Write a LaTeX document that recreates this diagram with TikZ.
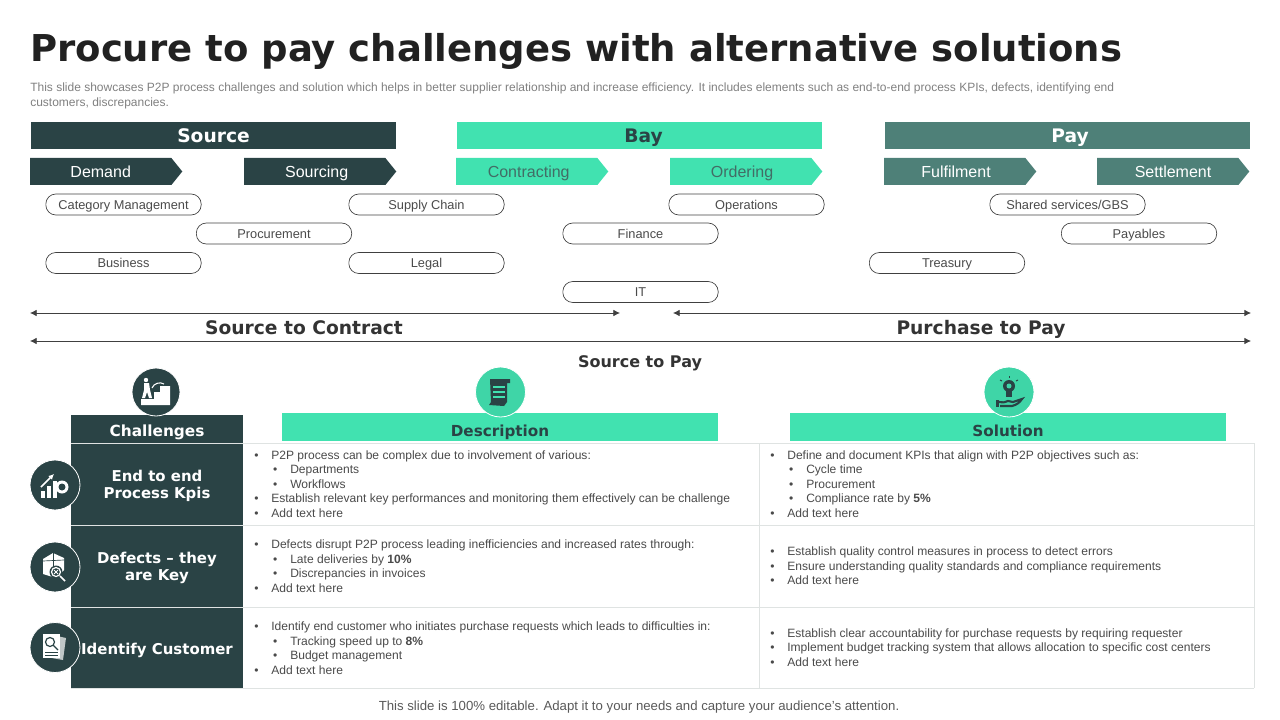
\documentclass[tikz,border=0pt]{standalone}
\usepackage{fontspec}
\usepackage{tikz}
\usetikzlibrary{shapes.symbols,arrows.meta}
\setmainfont{Liberation Sans}
\newfontfamily\headfont{DejaVu Sans}
\definecolor{darkteal}{HTML}{2A4345}
\definecolor{mint}{HTML}{41E2B0}
\definecolor{sage}{HTML}{4E8078}
\definecolor{bodygray}{HTML}{4A4A4A}
\definecolor{rulegray}{HTML}{DFE3E2}
\tikzstyle{bar}=[rectangle,minimum width=273.75pt,minimum height=20.25pt,inner sep=0pt,text height=14pt,text depth=2.8pt,font=\headfont\bfseries\fontsize{14}{16}\selectfont]
\tikzstyle{tag}=[signal,signal to=east,signal from=nowhere,signal pointer angle=102,minimum height=20.25pt,inner sep=0pt,text width=106pt,text height=11.5pt,text depth=2.2pt,align=center,font=\fontsize{12}{14}\selectfont]
\tikzstyle{pill}=[rectangle,draw=black!75,rounded corners=7.5pt,line width=.5pt,minimum width=116.5pt,minimum height=15.75pt,inner sep=0pt,text height=9pt,text depth=2.2pt,text=bodygray,font=\fontsize{9.6}{11}\selectfont]
\tikzstyle{span}=[{Latex[length=5pt,width=5pt]}-{Latex[length=5pt,width=5pt]},draw=black!75,line width=.6pt]
\tikzstyle{spanlabel}=[text=black!80,text height=13pt,text depth=2.6pt,font=\headfont\bfseries\fontsize{14}{16}\selectfont]
\tikzstyle{head}=[rectangle,fill=mint,minimum width=327pt,minimum height=21pt,inner sep=0pt,text=darkteal,text height=15pt,text depth=1.5pt,font=\headfont\bfseries\fontsize{11.4}{14}\selectfont]
\tikzstyle{side}=[rectangle,fill=darkteal,minimum width=129pt,inner sep=0pt,text=white,align=center,font=\headfont\bfseries\fontsize{11.2}{13}\selectfont]
\tikzstyle{disc}=[circle,fill=darkteal,draw=white,line width=.6pt,minimum size=37.5pt,inner sep=0pt]
\tikzstyle{discM}=[disc,fill=mint!92!darkteal]
\tikzstyle{cell}=[anchor=west,inner sep=0pt,text=bodygray,align=left,font=\fontsize{9.04}{10.9}\selectfont]
\newcommand{\bul}{\makebox[12.8pt][l]{\textbullet}}
\newcommand{\subbul}{\hspace*{14.2pt}\bul}
\begin{document}
\begin{tikzpicture}[x=.75pt,y=-.75pt]
  \useasboundingbox (0,0) rectangle (1280,720);
  % title
  \node[anchor=west,inner sep=0pt,text=black!87,font=\headfont\bfseries\fontsize{27.75}{32}\selectfont] (Title) at (30,51) {Procure to pay challenges with alternative solutions};
  \node[anchor=north west,inner sep=0pt,text=black!50,align=left,font=\fontsize{9}{10.8}\selectfont] (Intro) at (30,83) {This slide showcases P2P process challenges and solution which helps in better supplier relationship and increase efficiency. It includes elements such as end-to-end process KPIs, defects, identifying end\\customers, discrepancies.};

  % stages
  \node[bar,fill=darkteal,text=white] (Source) at (213.5,135.5) {Source};
  \node[bar,fill=mint,text=darkteal] (Bay) at (639.5,135.5) {\hspace*{6pt}Bay};
  \node[bar,fill=sage,text=white] (Pay) at (1067.5,135.5) {\hspace*{4pt}Pay};

  \node[tag,fill=darkteal,text=white] (Demand) at (100.7,171.5) {Demand};
  \node[tag,fill=darkteal,text=white] (Sourcing) at (314.7,171.5) {\hspace*{3pt}Sourcing};
  \node[tag,fill=mint,text=sage!85!black] (Contracting) at (526.7,171.5) {\hspace*{3pt}Contracting};
  \node[tag,fill=mint,text=sage!85!black] (Ordering) at (740.7,171.5) {\hspace*{2pt}Ordering};
  \node[tag,fill=sage,text=white] (Fulfilment) at (954.7,171.5) {\hspace*{2pt}Fulfilment};
  \node[tag,fill=sage,text=white] (Settlement) at (1167.7,171.5) {\hspace*{8pt}Settlement};

  % teams
  \node[pill] (Category) at (123.5,204.5) {Category Management};
  \node[pill] (Supply) at (426.5,204.5) {Supply Chain};
  \node[pill] (Operations) at (746.5,204.5) {Operations};
  \node[pill] (Shared) at (1067.5,204.5) {Shared services/GBS};
  \node[pill] (Procurement) at (274,233.5) {Procurement};
  \node[pill] (Finance) at (640.5,233.5) {Finance};
  \node[pill] (Payables) at (1139,233.5) {Payables};
  \node[pill] (Business) at (123.5,263) {Business};
  \node[pill] (Legal) at (426.5,263) {Legal};
  \node[pill] (Treasury) at (947,263) {Treasury};
  \node[pill] (IT) at (640.5,292) {IT};

  % spans
  \coordinate (c1) at (30,313); \coordinate (c2) at (620,313);
  \coordinate (p1) at (673,313); \coordinate (p2) at (1251,313);
  \coordinate (s1) at (30,341); \coordinate (s2) at (1251,341);
  \draw[span] (c1)--(c2); \draw[span] (p1)--(p2); \draw[span] (s1)--(s2);
  \node[spanlabel] (S2C) at (304,328) {Source to Contract};
  \node[spanlabel] (P2P) at (981,328) {Purchase to Pay};
  \node[spanlabel,text height=11.5pt,text depth=2.5pt,font=\headfont\bfseries\fontsize{12}{14}\selectfont] (S2P) at (640,361) {Source to Pay};

  % table
  \node[side,minimum height=21pt,text height=12.5pt,text depth=2pt] (Challenges) at (157,429) {\fontsize{11.5}{14}\selectfont Challenges};
  \node[side,minimum height=61.5pt] (Kpis) at (157,484) {\rule{0pt}{11.5pt}End to end\\Process Kpis};
  \node[side,minimum height=61.5pt] (Defects) at (157,566) {\rule{0pt}{11.5pt}Defects – they\\are Key};
  \node[side,minimum height=61pt,text height=12pt,text depth=2.2pt] (Customer) at (157,647.5) {Identify Customer};
  \node[head] (Description) at (500,427) {Description};
  \node[head] (Solution) at (1008,427) {Solution};

  \coordinate (t1) at (71,443); \coordinate (t2) at (1254,443);
  \coordinate (u1) at (71,525); \coordinate (u2) at (1254,525);
  \coordinate (v1) at (71,607); \coordinate (v2) at (1254,607);
  \coordinate (w1) at (71,688); \coordinate (w2) at (1254,688);
  \coordinate (m1) at (759,443); \coordinate (m2) at (759,688);
  \coordinate (r1) at (1254,443); \coordinate (r2) at (1254,688);
  \draw[rulegray,line width=.7pt] (t1)--(t2); \draw[rulegray,line width=.7pt] (u1)--(u2);
  \draw[rulegray,line width=.7pt] (v1)--(v2); \draw[rulegray,line width=.7pt] (w1)--(w2);
  \draw[rulegray,line width=.6pt] (m1)--(m2); \draw[rulegray,line width=.6pt] (r1)--(r2);

  \node[cell] (d1) at (254,484) {\bul P2P process can be complex due to involvement of various:\\\subbul Departments\\\subbul Workflows\\\bul Establish relevant key performances and monitoring them effectively can be challenge\\\bul Add text here};
  \node[cell] (d2) at (254,566) {\bul Defects disrupt P2P process leading inefficiencies and increased rates through:\\\subbul Late deliveries by \textbf{10\%}\\\subbul Discrepancies in invoices\\\bul Add text here};
  \node[cell] (d3) at (254,648) {\bul Identify end customer who initiates purchase requests which leads to difficulties in:\\\subbul Tracking speed up to \textbf{8\%}\\\subbul Budget management\\\bul Add text here};
  \node[cell] (e1) at (770,484) {\bul Define and document KPIs that align with P2P objectives such as:\\\subbul Cycle time\\\subbul Procurement\\\subbul Compliance rate by \textbf{5\%}\\\bul Add text here};
  \node[cell] (e2) at (770,566) {\bul Establish quality control measures in process to detect errors\\\bul Ensure understanding quality standards and compliance requirements\\\bul Add text here};
  \node[cell] (e3) at (770,647.5) {\bul Establish clear accountability for purchase requests by requiring requester\\\bul Implement budget tracking system that allows allocation to specific cost centers\\\bul Add text here};

  % discs
  \node[disc,minimum size=36pt] (i0) at (156,392) {};
  \node[discM] (i1) at (500.5,392) {};
  \node[discM] (i2) at (1009,392) {};
  \node[disc] (i3) at (55,485) {};
  \node[disc] (i4) at (55,567) {};
  \node[disc] (i5) at (55,647.5) {};

  % stairs
  \fill[white] (141,405)--(141,399)--(154,399)--(154,392)--(160,392)--(160,386)--(170,386)--(170,405)--cycle;
  \fill[white] (146,380) circle (2.2);
  \fill[white] (144,383)--(149,383)--(150,390)--(152,398)--(149,398)--(147,392)--(145,398)--(142,398)--(144,390)--cycle;
  \draw[white,line width=.8pt] (152,388) to[bend left=50] (164,384);
  % scroll
  \fill[darkteal] (490,379)--(510,379)--(510,383)--(507,383)--(507,402)--(504,406)--(489,405)--(491,402)--cycle;
  \draw[mint,line width=1pt] (493,387)--(505,387); \draw[mint,line width=1pt] (493,392)--(505,392); \draw[mint,line width=1pt] (493,397)--(505,397);
  % bulb and hand
  \fill[darkteal] (1009,386) circle (6);
  \fill[darkteal] (1006,391) rectangle (1012,397);
  \fill[mint!92!darkteal] (1009,386) circle (2.5);
  \draw[darkteal,line width=.7pt] (1009,376)--(1009,378); \draw[darkteal,line width=.7pt] (1000,380)--(1002,381); \draw[darkteal,line width=.7pt] (1018,380)--(1016,381);
  \fill[darkteal] (996,400) rectangle (999,407);
  \draw[darkteal,line width=1.6pt] (999,402) to[bend right=20] (1008,401)--(1013,402)--(1022,399) to[bend left=20] (1012,406)--(1000,406);
  % chart
  \fill[white] (41,498) rectangle (45,491); \fill[white] (47,498) rectangle (51,486); \fill[white] (53,498) rectangle (57,481);
  \draw[white,line width=1.3pt,-{Latex[length=4pt,width=4pt]}] (41,487)--(54,474);
  \fill[white] (62,487) circle (6.5); \fill[darkteal] (62,487) circle (3.5);
  % box with magnifier
  \fill[white] (43,559)--(53,553)--(64,558)--(64,570)--(56,578)--(43,574)--cycle;
  \draw[darkteal,line width=.5pt] (43,561)--(64,560); \draw[darkteal,line width=.5pt] (53,553)--(53,567);
  \fill[darkteal] (56,572) circle (6.5); \draw[white,line width=.9pt] (56,572) circle (4.5);
  \draw[white,line width=.7pt] (54,570)--(58,574); \draw[white,line width=.7pt] (58,570)--(54,574);
  \draw[white,line width=1.2pt] (60,576)--(65,581);
  % papers with magnifier
  \fill[white!70!darkteal] (48,634)--(66,638)--(63,660)--(46,657)--cycle;
  \fill[white] (43,634)--(60,634)--(60,658)--(43,658)--cycle;
  \draw[darkteal,line width=.9pt] (50,642) circle (4.5); \draw[darkteal,line width=1pt] (53,645)--(58,650);
  \draw[darkteal,line width=.5pt] (45,652)--(58,652); \draw[darkteal,line width=.5pt] (45,655)--(58,655);

  \node[text=black!65,font=\fontsize{9.9}{11}\selectfont] (Footer) at (639,707.5) {This slide is 100\% editable. Adapt it to your needs and capture your audience's attention.};
\end{tikzpicture}
\end{document}
